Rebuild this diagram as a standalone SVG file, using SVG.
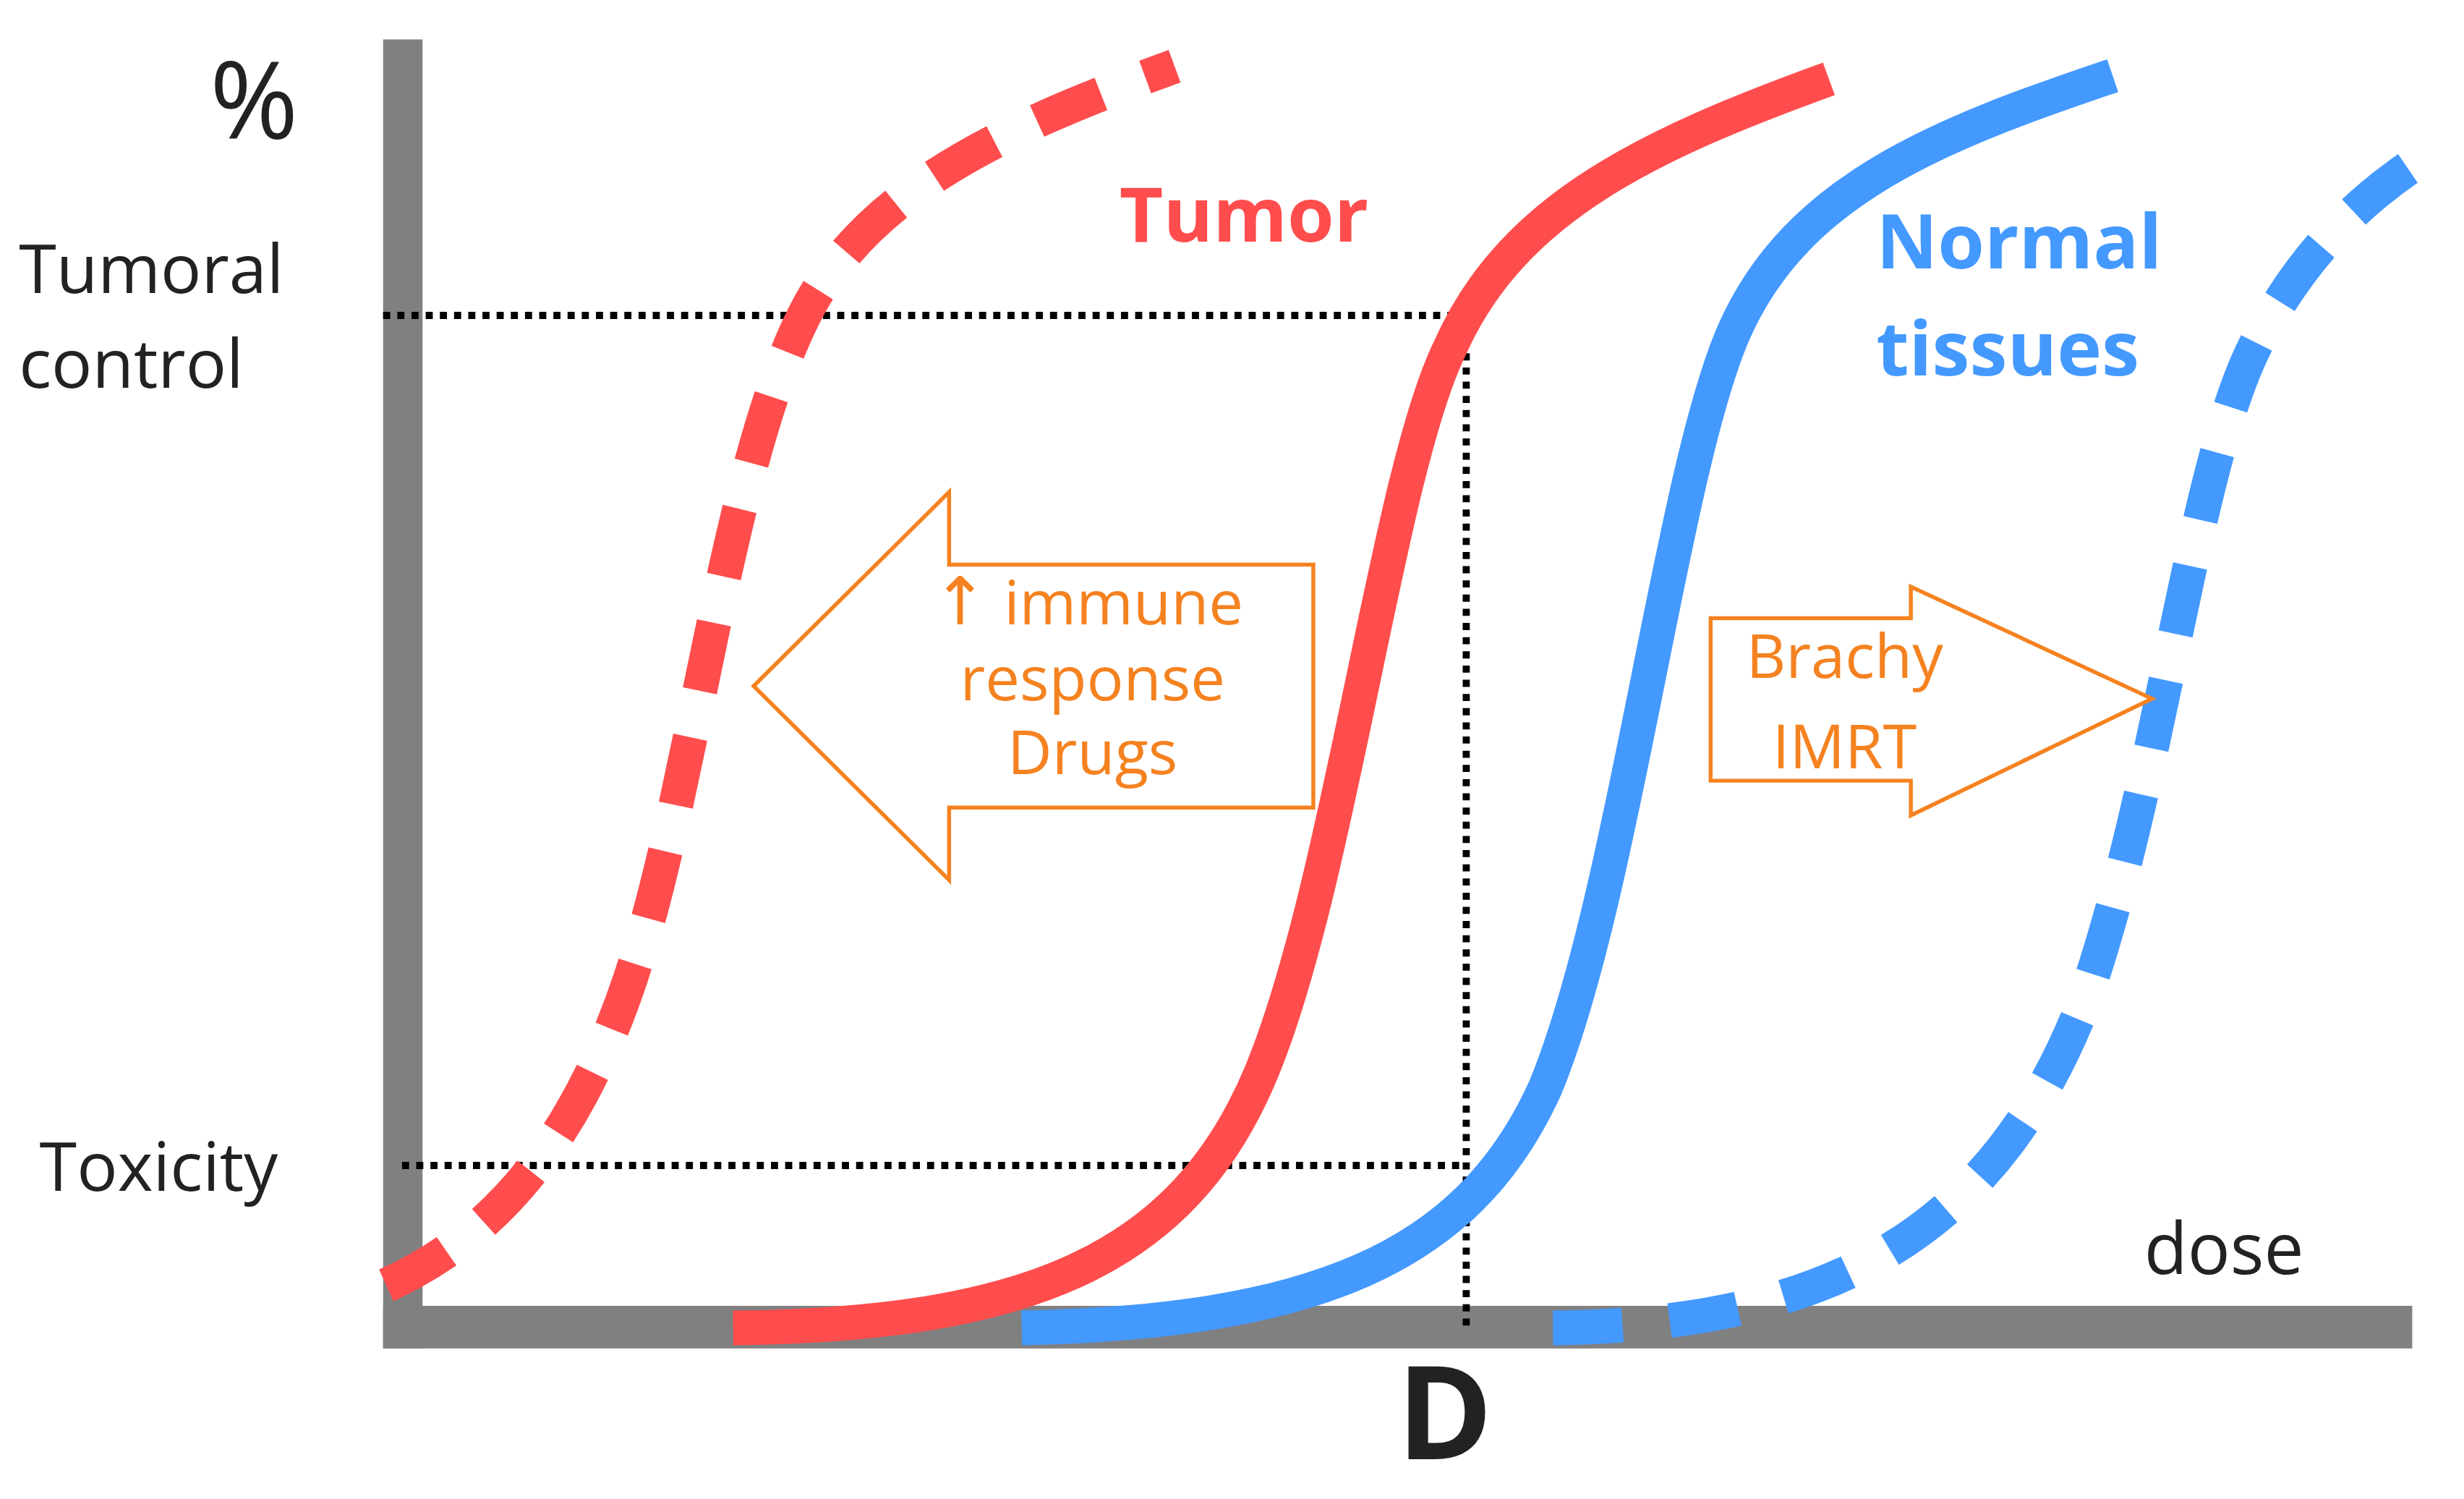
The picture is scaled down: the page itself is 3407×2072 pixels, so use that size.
<svg xmlns="http://www.w3.org/2000/svg" width="3407" height="2072" viewBox="0 0 3407 2072">
<style>
.ax{fill:#808080}
.dot{stroke:#000;stroke-width:4.5;stroke-dasharray:4.5 4.5;fill:none}
.cv{fill:none;stroke-width:22}
.red{stroke:#ff4d4d}.blue{stroke:#4499ff}
.dash{stroke-dasharray:44 30}
.t{font-family:"Open Sans","Liberation Sans",sans-serif;fill:#222}
.o{font-family:"Open Sans","Liberation Sans",sans-serif;fill:#f58220;font-size:39px;text-anchor:middle}
.arr{fill:#fff;stroke:#f58220;stroke-width:2.5}
</style>
<rect width="3407" height="2072" fill="#fff"/>
<g transform="scale(2.18)">
<g id="axes">
<rect class="ax" x="243" y="25" width="25" height="830"/>
<rect class="ax" x="243" y="828" width="1287" height="27"/>
</g>
<g id="connectors">
<path class="dot" d="M243,200 H930 V842"/>
<path class="dot" d="M255,739 H930"/>
<path class="cv red" d="M465,842 C650,840 750,800 800,680 C850,560 880,300 920,220 C960,130 1050,90 1160,50"/>
<path class="cv blue" d="M648,842 C830,838 930,800 980,690 C1030,570 1060,300 1100,210 C1140,120 1230,85 1340,48"/>
<path class="cv red dash" d="M245,815 C300,790 360,740 400,620 C440,500 460,300 510,200 C550,120 640,80 745,42"/>
<path class="cv blue dash" d="M985,842 C1150,840 1260,790 1320,640 C1370,500 1390,300 1430,220 C1460,160 1500,125 1530,105"/>
</g>
<g id="labels">
<text class="t" x="133" y="88" font-size="68">%</text>
<text class="t" x="12" y="186" font-size="43">Tumoral</text>
<text class="t" x="12" y="246" font-size="43">control</text>
<text class="t" x="25" y="755" font-size="43">Toxicity</text>
<text class="t" x="1360" y="808" font-size="45">dose</text>
<text class="t" x="886" y="925" font-size="82" font-weight="bold" fill="#555">D</text>
<text x="710" y="153" font-size="48" font-weight="bold" fill="#ff4d4d" font-family="Open Sans,Liberation Sans,sans-serif">Tumor</text>
<text x="1190" y="170" font-size="48" font-weight="bold" fill="#4499ff" font-family="Open Sans,Liberation Sans,sans-serif">Normal</text>
<text x="1190" y="238" font-size="48" font-weight="bold" fill="#4499ff" font-family="Open Sans,Liberation Sans,sans-serif">tissues</text>
</g>
<g id="arrow-left">
<polygon class="arr" points="478,435 602,312 602,358 833,358 833,512 602,512 602,558"/>
<text class="o" x="690" y="396"><tspan font-family="DejaVu Sans" font-size="42">↑</tspan> immune</text>
<text class="o" x="693" y="444">response</text>
<text class="o" x="693" y="491">Drugs</text>
</g>
<g id="arrow-right">
<polygon class="arr" points="1085,392 1212,392 1212,372 1365,443 1212,517 1212,495 1085,495"/>
<text class="o" x="1170" y="430">Brachy</text>
<text class="o" x="1170" y="487">IMRT</text>
</g>
</g>
</svg>
